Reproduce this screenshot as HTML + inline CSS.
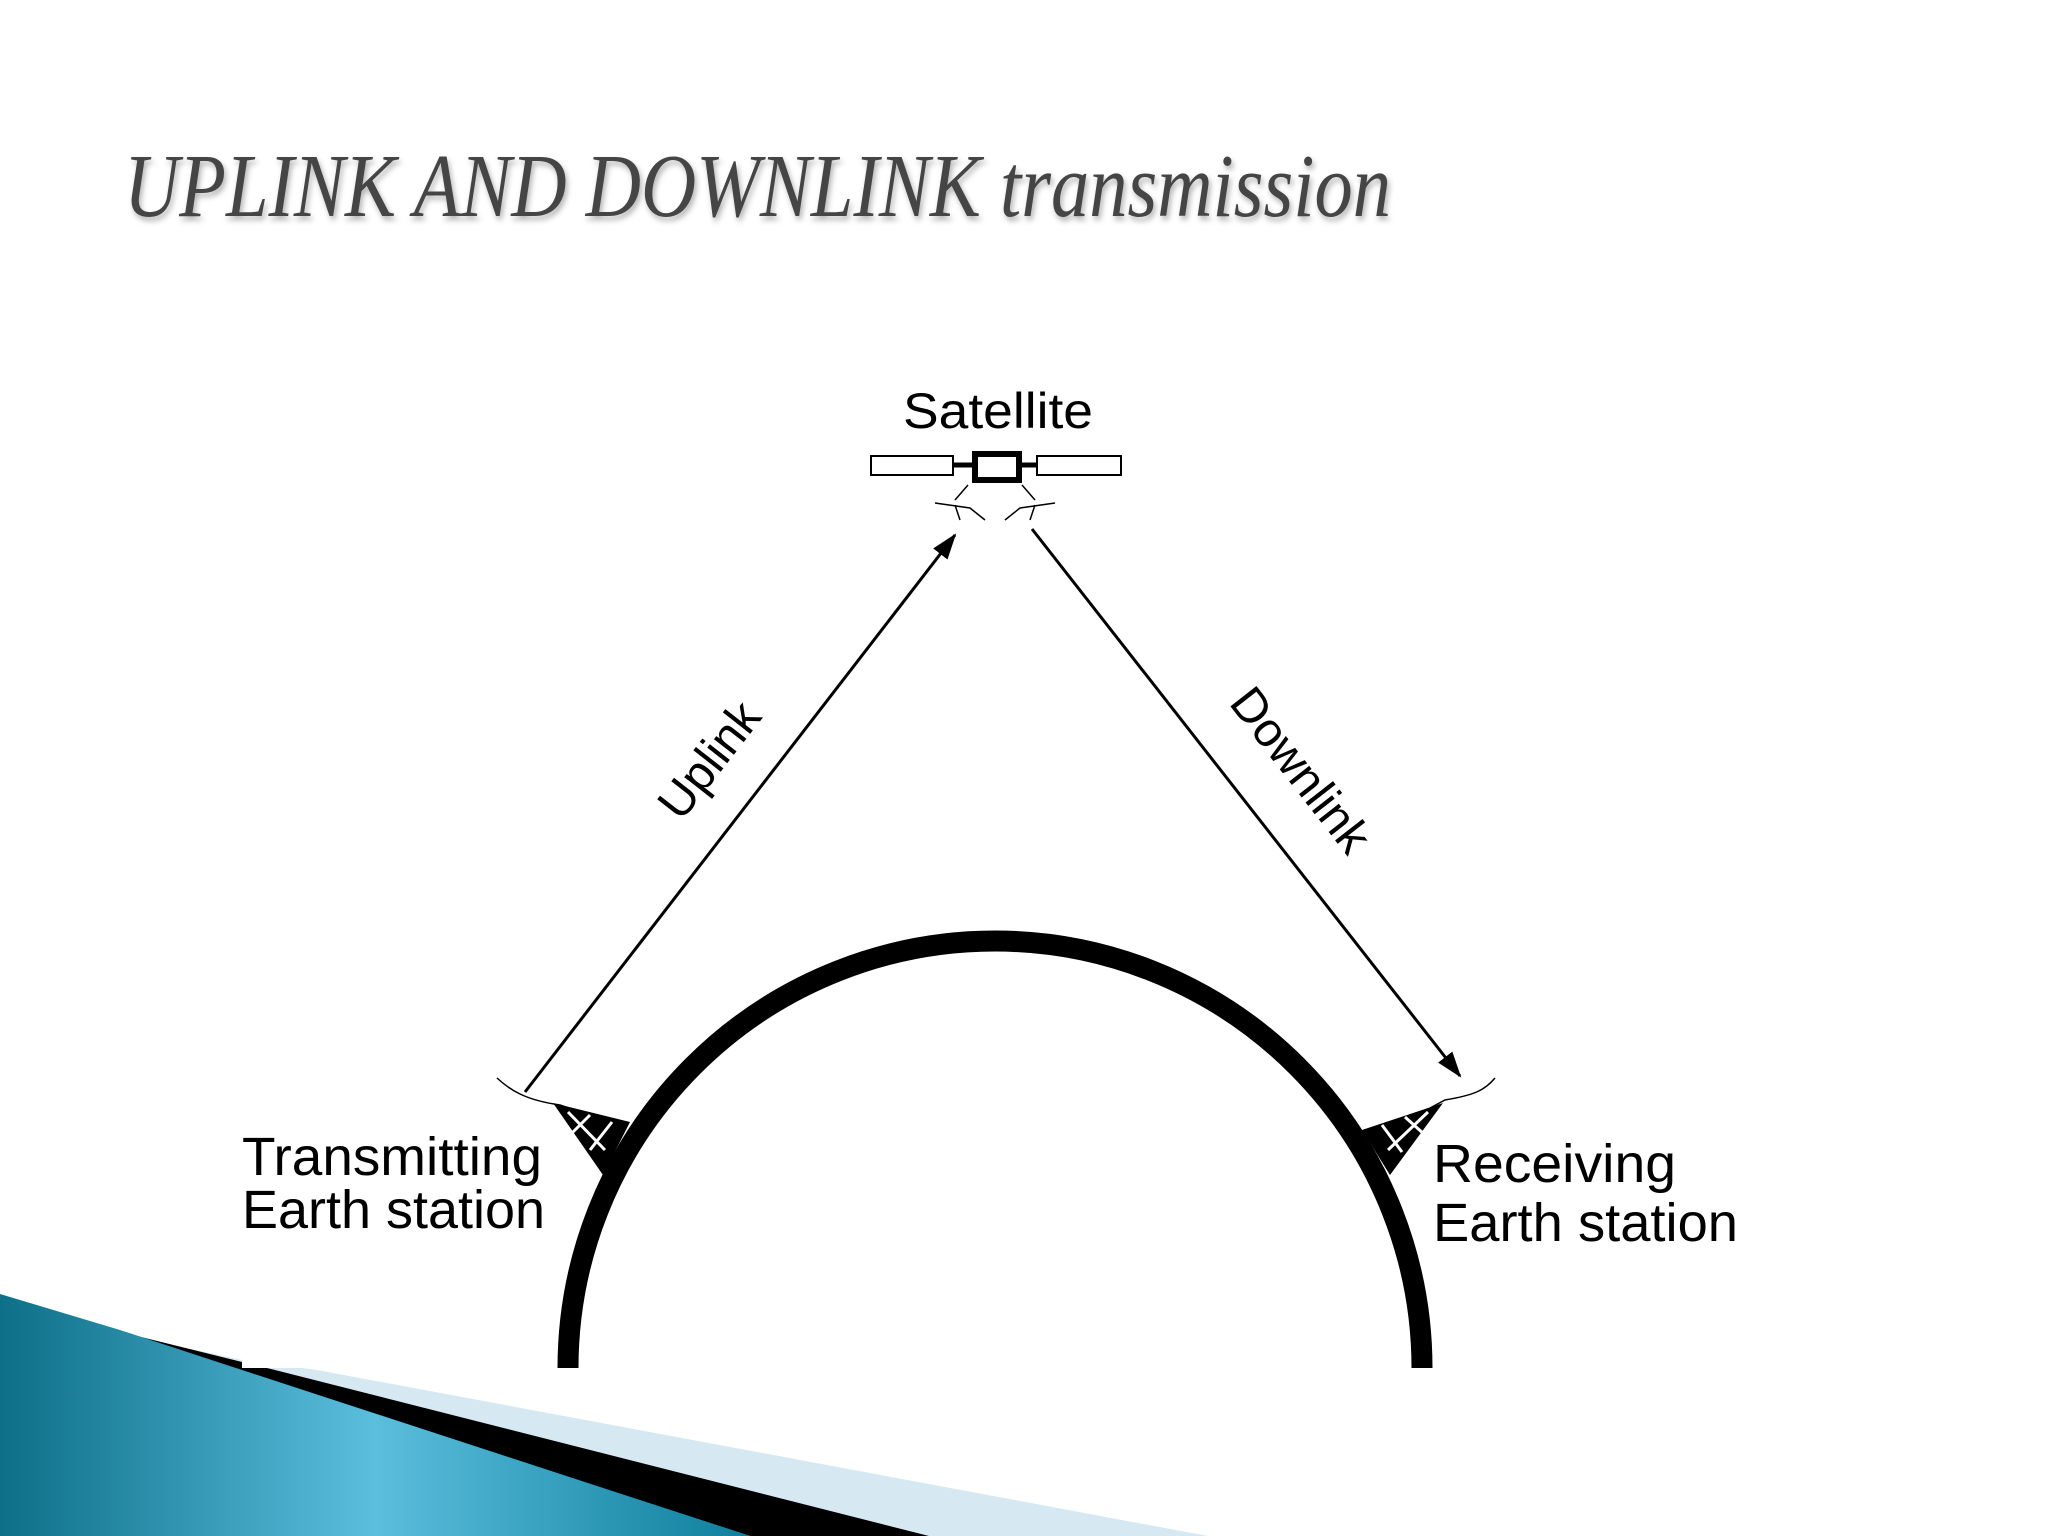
<!DOCTYPE html>
<html><head><meta charset="utf-8"><style>
html,body{margin:0;padding:0;background:#fff}
svg{display:block}
</style></head><body>
<svg width="2048" height="1536" viewBox="0 0 2048 1536" xmlns="http://www.w3.org/2000/svg">
<defs>
<linearGradient id="bl" x1="0" y1="0" x2="1" y2="0">
<stop offset="0" stop-color="#0d6f88"/><stop offset="0.5" stop-color="#5bbedd"/><stop offset="1" stop-color="#0e7f9c"/>
</linearGradient>
<filter id="sh" x="-5%" y="-20%" width="110%" height="150%"><feDropShadow dx="2" dy="4" stdDeviation="3" flood-color="#000" flood-opacity="0.3"/></filter>
<marker id="ah" markerWidth="26" markerHeight="18" refX="24" refY="9" orient="auto" markerUnits="userSpaceOnUse" viewBox="0 0 26 18">
<path d="M0,0 L26,9 L0,18 z" fill="#000"/></marker>
</defs>
<!-- bottom-left decoration -->
<polygon points="150,1340 242,1360 317,1370 1208,1536 929,1536" fill="#d6e8f1"/>
<polygon points="125,1333 242,1362 275,1370 929,1536 750,1536" fill="#000"/>
<polygon points="0,1294 120,1330 242,1370 750,1536 0,1536" fill="url(#bl)"/>
<rect x="242" y="1300" width="500" height="68" fill="#fff"/>
<!-- title -->
<text x="124" y="216" font-family="Liberation Serif, serif" font-style="italic" font-size="90" fill="#444" filter="url(#sh)" textLength="1267" lengthAdjust="spacingAndGlyphs">UPLINK AND DOWNLINK transmission</text>
<!-- satellite -->
<text x="998" y="428" text-anchor="middle" font-family="Liberation Sans, sans-serif" font-size="50" fill="#000" textLength="190" lengthAdjust="spacingAndGlyphs">Satellite</text>
<rect x="871" y="456" width="82" height="19" fill="#fff" stroke="#000" stroke-width="2"/>
<rect x="1037" y="456" width="84" height="19" fill="#fff" stroke="#000" stroke-width="2"/>
<line x1="953" y1="465" x2="1037" y2="465" stroke="#000" stroke-width="5"/>
<rect x="975" y="454" width="44" height="26" fill="#fff" stroke="#000" stroke-width="6"/>
<g stroke="#000" stroke-width="1.5" fill="none">
<path d="M968,485 L955,500 M935,503 L970,508 L985,520 M955,505 L960,520"/>
<path d="M1022,485 L1035,500 M1055,503 L1020,508 L1005,520 M1035,505 L1030,520"/>
<path d="M497,1078 C510,1090 525,1100 560,1105 L580,1112"/>
<path d="M1495,1078 C1485,1090 1475,1095 1445,1100 L1430,1108"/>
</g>
<!-- links -->
<line x1="525" y1="1092" x2="955" y2="535" stroke="#000" stroke-width="3" marker-end="url(#ah)"/>
<line x1="1032" y1="529" x2="1460" y2="1076" stroke="#000" stroke-width="3" marker-end="url(#ah)"/>
<text transform="translate(722,770) rotate(-52)" text-anchor="middle" font-family="Liberation Sans, sans-serif" font-size="48">Uplink</text>
<text transform="translate(1288,780) rotate(52)" text-anchor="middle" font-family="Liberation Sans, sans-serif" font-size="48">Downlink</text>
<!-- earth -->
<path d="M568,1368 A427,427 0 0 1 1422,1368" fill="none" stroke="#000" stroke-width="21"/>
<!-- towers -->
<polygon points="553,1103 630,1122 603,1175" fill="#000"/>
<g stroke="#fff" stroke-width="3"><line x1="568" y1="1112" x2="605" y2="1150"/><line x1="590" y1="1115" x2="570" y2="1135"/><line x1="612" y1="1122" x2="590" y2="1150"/></g>
<polygon points="1443,1103 1362,1130 1390,1175" fill="#000"/>
<g stroke="#fff" stroke-width="3"><line x1="1428" y1="1112" x2="1388" y2="1150"/><line x1="1405" y1="1117" x2="1425" y2="1135"/><line x1="1382" y1="1125" x2="1402" y2="1152"/></g>
<!-- labels -->
<g font-family="Liberation Sans, sans-serif" font-size="54" fill="#000" lengthAdjust="spacingAndGlyphs">
<text x="242" y="1175" textLength="300" lengthAdjust="spacingAndGlyphs">Transmitting</text>
<text x="242" y="1228" textLength="303" lengthAdjust="spacingAndGlyphs">Earth station</text>
<text x="1433" y="1182" textLength="243" lengthAdjust="spacingAndGlyphs">Receiving</text>
<text x="1433" y="1241" textLength="305" lengthAdjust="spacingAndGlyphs">Earth station</text>
</g>
</svg>
</body></html>
